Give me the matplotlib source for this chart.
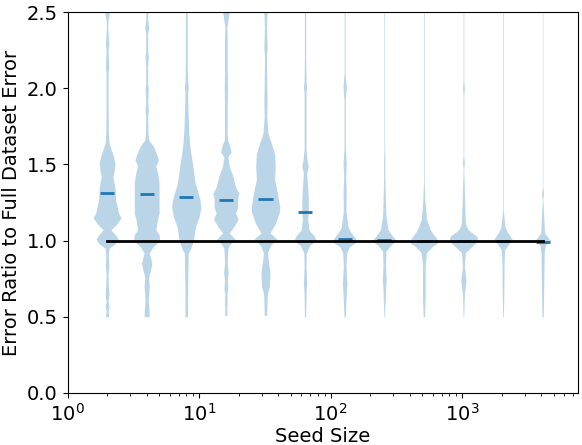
import numpy as np
import matplotlib
matplotlib.use("Agg")
import matplotlib.pyplot as plt

# seed sizes (violin positions) and the median error ratio of each
seed_sizes = [2, 4, 8, 16, 32, 64, 128, 256, 512, 1024, 2048, 4096]
medians = [1.315, 1.304, 1.288, 1.269, 1.275, 1.185, 1.011, 1.006, 1.0, 1.0, 1.0, 0.99]

# violin outlines: error ratio levels and density there
v2_y = [2.6, 2.52, 2.49, 2.45, 2.40, 2.29, 2.25, 2.14, 2.10, 1.92, 1.70, 1.64, 1.55, 1.51, 1.46, 1.42, 1.35,
        1.27, 1.18, 1.15, 1.11, 1.07, 1.04, 1.01, 0.98, 0.95, 0.90, 0.83, 0.78, 0.70, 0.65, 0.60, 0.57, 0.54, 0.50]
v2_d = [3, 6, 7, 3, 2, 5, 3, 5, 3, 3, 4, 6, 20, 24, 22, 18, 24,
        26, 35, 43, 30, 12, 25, 34, 25, 6, 4, 5, 3, 4, 6, 3, 6, 3, 5]

v4_y = [2.6, 2.45, 2.40, 2.36, 2.25, 2.21, 2.14, 2.03, 1.99, 1.92, 1.86, 1.81, 1.70, 1.66, 1.62, 1.57, 1.53,
        1.49, 1.44, 1.38, 1.27, 1.18, 1.14, 1.07, 1.04, 1.00, 0.96, 0.92, 0.85, 0.81, 0.76, 0.70, 0.61, 0.55, 0.50]
v4_d = [3, 3, 6, 3, 3, 5, 3, 3, 5, 3, 5, 3, 4, 6, 20, 30, 36,
        28, 34, 38, 38, 38, 33, 28, 38, 40, 20, 8, 16, 12, 6, 8, 5, 7, 8]

v8_y = [2.6, 2.40, 2.14, 2.05, 2.01, 1.97, 1.81, 1.70, 1.60, 1.49, 1.38, 1.27, 1.22, 1.16, 1.09, 1.00, 0.94,
        0.92, 0.80, 0.65, 0.50]
v8_d = [2, 3, 3, 4, 6, 4, 6, 8, 12, 20, 27, 42, 45, 40, 28, 22, 12, 6, 5, 4, 4]

v16_y = [2.6, 2.50, 2.47, 2.40, 2.34, 2.14, 1.99, 1.86, 1.70, 1.66, 1.62, 1.58, 1.55, 1.49, 1.42, 1.35, 1.31,
         1.27, 1.22, 1.18, 1.14, 1.09, 1.05, 1.01, 0.98, 0.95, 0.85, 0.79, 0.74, 0.68, 0.65, 0.61, 0.55, 0.51]
v16_d = [6, 10, 8, 3, 4, 4, 5, 4, 4, 5, 12, 16, 6, 10, 22, 30, 40,
         36, 36, 30, 38, 24, 10, 28, 15, 6, 4, 7, 4, 6, 3, 4, 3, 4]

v32_y = [2.6, 2.50, 2.40, 2.27, 2.20, 2.03, 1.92, 1.81, 1.70, 1.64, 1.57, 1.49, 1.40, 1.33, 1.27, 1.22, 1.18,
         1.11, 1.05, 1.01, 0.97, 0.92, 0.85, 0.79, 0.70, 0.65, 0.61, 0.51]
v32_d = [4, 5, 3, 5, 3, 4, 5, 4, 8, 18, 28, 30, 28, 35, 40, 44, 42, 30, 14, 35, 16, 6, 10, 14, 12, 6, 5, 4]

v64_y = [2.6, 2.20, 2.05, 2.01, 1.97, 1.81, 1.60, 1.53, 1.49, 1.44, 1.35, 1.27, 1.18, 1.14, 1.07, 1.03, 1.00,
         0.97, 0.92, 0.83, 0.72, 0.65, 0.50]
v64_d = [2, 2, 3, 5, 3, 3, 3, 6, 10, 5, 8, 10, 10, 8, 12, 28, 35, 15, 4, 3, 5, 3, 2]

v128_y = [2.6, 2.10, 2.01, 1.92, 1.60, 1.51, 1.42, 1.31, 1.20, 1.09, 1.05, 1.01, 0.99, 0.96, 0.92, 0.83, 0.72,
          0.65, 0.50]
v128_d = [1.5, 1.5, 5, 2, 2, 5, 3, 5, 4, 10, 20, 35, 36, 15, 6, 4, 7, 5, 2]

v256_y = [2.6, 1.60, 1.53, 1.40, 1.16, 1.07, 1.03, 1.00, 0.97, 0.93, 0.83, 0.74, 0.68, 0.50]
v256_d = [1, 1, 2, 2, 5, 12, 25, 38, 20, 5, 4, 6, 4, 1]

v512_y = [2.6, 1.40, 1.27, 1.14, 1.07, 1.01, 0.99, 0.96, 0.92, 0.83, 0.61, 0.50]
v512_d = [1, 1, 3, 8, 20, 40, 45, 25, 8, 4, 4, 2]

v1024_y = [2.6, 2.05, 2.00, 1.95, 1.55, 1.51, 1.47, 1.11, 1.07, 1.03, 1.00, 0.96, 0.92, 0.83, 0.74, 0.65, 0.50]
v1024_d = [1, 1, 3, 1, 1, 3, 1, 6, 15, 40, 45, 25, 6, 3, 8, 3, 1]

v2048_y = [2.6, 1.20, 1.09, 1.05, 1.01, 0.98, 0.94, 0.83, 0.72, 0.50]
v2048_d = [1, 1, 6, 15, 28, 18, 5, 3, 3, 1]

v4096_y = [2.6, 1.35, 1.31, 1.27, 1.05, 1.01, 1.00, 0.97, 0.92, 0.50]
v4096_d = [0.8, 0.8, 3, 0.8, 6, 20, 25, 8, 5, 2]

profiles = [(v2_y, v2_d), (v4_y, v4_d), (v8_y, v8_d), (v16_y, v16_d), (v32_y, v32_d), (v64_y, v64_d),
            (v128_y, v128_d), (v256_y, v256_d), (v512_y, v512_d), (v1024_y, v1024_d),
            (v2048_y, v2048_d), (v4096_y, v4096_d)]

# half width (in decades) of a density of 1
scale = 0.109 / 44

fig = plt.figure(figsize=(5.82, 4.45), dpi=100)
ax = fig.add_axes([0.116, 0.117, 0.877, 0.856])

for pos, (ys, ds), med in zip(seed_sizes, profiles, medians):
	lc = np.log10(pos)
	hw = np.array(ds) * scale
	ax.fill_betweenx(ys, 10 ** (lc - hw), 10 ** (lc + hw), color='C0', alpha=0.3, lw=0)
	mh = 0.054
	ax.plot([10 ** (lc - mh), 10 ** (lc + mh)], [med, med], color='C0', lw=2, solid_capstyle='butt')

ax.plot([seed_sizes[0], seed_sizes[-1]], [1, 1], color='black', lw=2)

ax.set_xscale('log')
ax.set_xlim(1, 7600)
ax.set_ylim(0, 2.5)
ax.set_yticks([0.0, 0.5, 1.0, 1.5, 2.0, 2.5])
ax.tick_params(labelsize=14)
ax.set_xlabel('Seed Size', fontsize=14, labelpad=2)
ax.set_ylabel('Error Ratio to Full Dataset Error', fontsize=14, labelpad=4)

fig.savefig('out.png', dpi=100)
